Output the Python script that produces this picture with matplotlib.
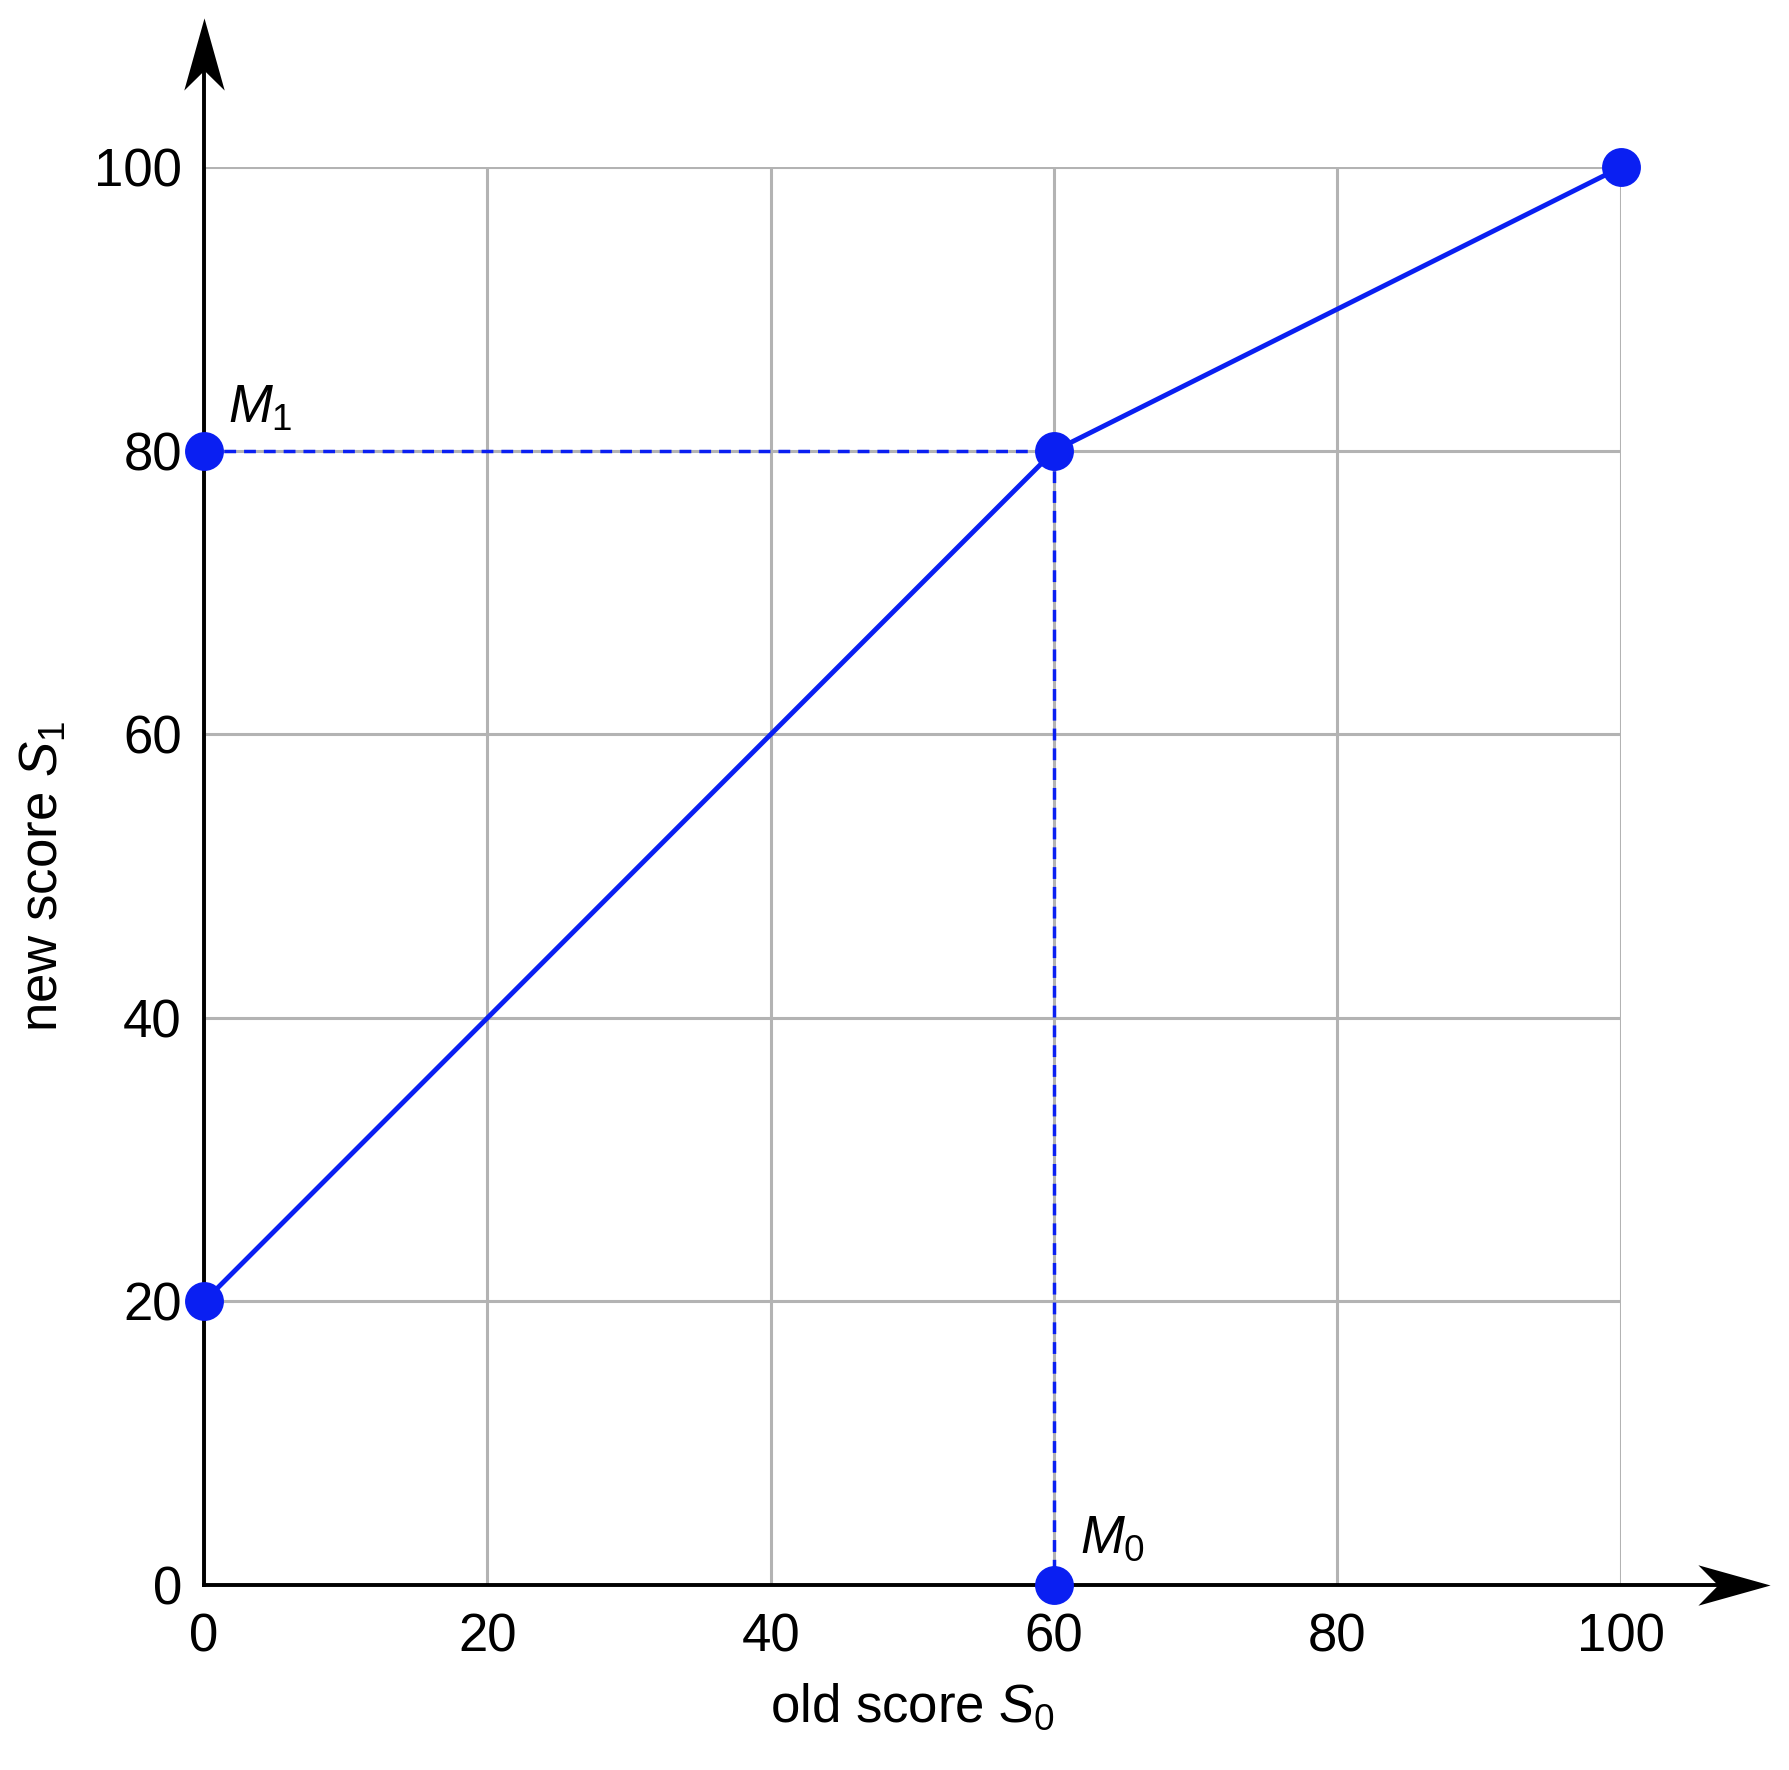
import numpy as np
import matplotlib
matplotlib.use('Agg')
import matplotlib.pyplot as plt

plt.rcParams['font.family'] = ['Liberation Sans', 'DejaVu Sans']
plt.rcParams['mathtext.fontset'] = 'custom'
plt.rcParams['mathtext.rm'] = 'Liberation Sans'
plt.rcParams['mathtext.it'] = 'Liberation Sans:italic'

# data
curve_x = [0, 60, 100]
curve_y = [20, 80, 100]
point_x = [0, 0, 60, 60, 100]
point_y = [20, 80, 80, 0, 100]
guide_h = ([0, 60], [80, 80])
guide_v = ([60, 60], [80, 0])
ticks = [0, 20, 40, 60, 80, 100]
labels = {'$M_1$': (1.7, 82.0), '$M_0$': (61.8, 2.3)}

blue = '#0a1ff2'
grid_c = '#b3b3b3'
axis_end = 107.0
arrow_c = 108.0
fs = 38


def arrow_marker(direction):
    # concave arrowhead, tip pointing up
    verts = np.array([[0, 1], [-0.56, -1], [0, -0.45], [0.56, -1], [0, 1]])
    if direction == 'right':
        verts = verts[:, ::-1]
    return verts


def main():
    fig = plt.figure(figsize=(17.9, 17.7), dpi=100)
    ax = fig.add_axes([0.114, 0.1045, 0.7915, 0.801])
    ax.set_xlim(0, 100)
    ax.set_ylim(0, 100)
    for s in ax.spines.values():
        s.set_visible(False)

    ax.set_xticks(ticks)
    ax.set_yticks(ticks)
    ax.tick_params(length=0, labelsize=fs)
    ax.tick_params(axis='x', pad=20)
    ax.tick_params(axis='y', pad=16)
    ax.grid(True, color=grid_c, lw=2.2)
    ax.set_axisbelow(True)

    # axes with arrows
    ax.plot([0, axis_end], [0, 0], color='k', lw=2.8, clip_on=False, zorder=3)
    ax.plot([0, 0], [0, axis_end], color='k', lw=2.8, clip_on=False, zorder=3)
    ax.plot([arrow_c], [0], marker=arrow_marker('right'), ms=52, color='k',
            mec='k', mew=0, clip_on=False, zorder=3)
    ax.plot([0], [arrow_c], marker=arrow_marker('up'), ms=52, color='k',
            mec='k', mew=0, clip_on=False, zorder=3)

    # guides and curve
    ax.plot(*guide_h, color=blue, lw=2.5, dashes=(3.4, 2.3), zorder=4)
    ax.plot(*guide_v, color=blue, lw=2.5, dashes=(3.4, 2.3), zorder=4)
    ax.plot(curve_x, curve_y, color=blue, lw=3.5, zorder=5)
    ax.plot(point_x, point_y, 'o', color=blue, ms=28, mew=0,
            clip_on=False, zorder=6)

    for txt, (x, y) in labels.items():
        ax.text(x, y, txt, fontsize=fs, va='baseline', ha='left', zorder=7)

    ax.set_xlabel('old score $S_{\\mathrm{0}}$', fontsize=fs, labelpad=14)
    ax.set_ylabel('new score $S_{\\mathit{1}}$', fontsize=fs, labelpad=18)

    fig.savefig('out.png', dpi=100)


if __name__ == "__main__":
    main()
